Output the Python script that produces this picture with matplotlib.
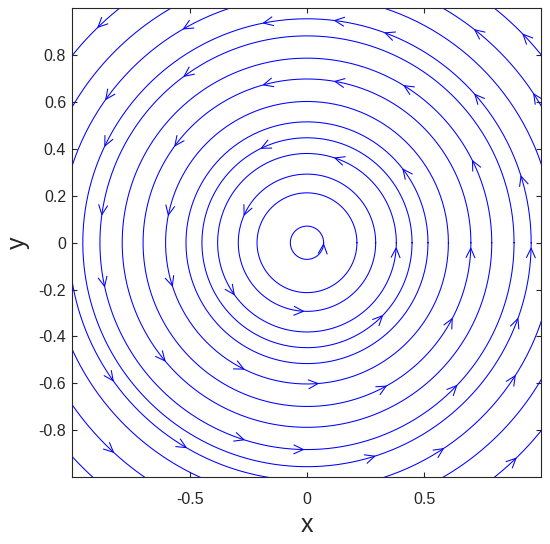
import numpy as np
import matplotlib.pyplot as plt

plt.rcParams['font.family'] = ['Liberation Sans', 'DejaVu Sans']
plt.rcParams['axes.unicode_minus'] = False

# closed streamlines around the origin (radius)
ring_radii = [0.071, 0.213, 0.293, 0.381, 0.448, 0.516, 0.603, 0.699, 0.788, 0.883, 0.956]
# outer streamlines that leave the box
outer_radii_a = [1.054, 1.157, 1.281]          # from bottom, over the right and top, to the left
outer_radii_b = [1.015, 1.100, 1.217, 1.355]   # lower left corner

# arrow heads: streamline radius and polar angle (deg)
arrow_r = [1.281, 1.054, 0.956, 1.054, 0.883, 0.699, 0.956, 0.699, 0.448, 0.883, 0.603, 0.293,
           0.956, 0.956, 1.157, 1.281, 0.699, 0.788, 0.956, 1.157, 0.381, 0.516, 0.788, 0.956,
           0.071, 0.381, 0.699, 0.956, 0.448, 0.699, 0.956, 0.603, 0.699, 0.883, 1.054, 0.956,
           1.054, 1.281, 0.883, 0.603, 0.381, 0.293, 1.015, 0.788, 0.603, 1.217, 1.015, 0.883,
           0.883]
arrow_deg = [134.1, 120.0, 101.2, 144.5, 126.4, 105.4, 154.4, 143.7, 115.8, 172.2, 168.7, 156.2,
             82.9, 69.6, 51.8, 44.0, 80.2, 58.3, 41.5, 33.3, 71.8, 37.5, 26.4, 17.3,
             -5.0, -3.4, -1.9, -1.4, -44.1, -27.6, -19.8, -85.5, -61.1, -43.7, -32.6, -72.4,
             -56.5, -45.9, 192.2, 197.8, 215.5, 267.1, 215.5, 219.8, 243.5, 227.3, 239.5, 252.3,
             269.0]

line_color = (0, 0, 1)
lw = 0.75

fig = plt.figure(figsize=(5.5, 5.44), dpi=100)
ax = fig.add_axes([0.1318, 0.1232, 0.8527, 0.8612])

t = np.linspace(0, 2 * np.pi, 400)
for r in ring_radii:
    ax.plot(r * np.cos(t), r * np.sin(t), color=line_color, lw=lw)

ta = np.radians(np.linspace(-90, 180, 400))
for r in outer_radii_a:
    ax.plot(r * np.cos(ta), r * np.sin(ta), color=line_color, lw=lw)

tb = np.radians(np.linspace(180, 270, 200))
for r in outer_radii_b:
    ax.plot(r * np.cos(tb), r * np.sin(tb), color=line_color, lw=lw)

# arrow heads (open V, counter-clockwise flow)
L = 0.044
half = np.radians(25)
for r, d in zip(arrow_r, arrow_deg):
    th = np.radians(d)
    tip = np.array([r * np.cos(th), r * np.sin(th)])
    back = -np.array([-np.sin(th), np.cos(th)])
    pts = []
    for s in (half, -half):
        c, sn = np.cos(s), np.sin(s)
        w = np.array([c * back[0] - sn * back[1], sn * back[0] + c * back[1]])
        pts.append(tip + L * w)
    ax.plot([pts[0][0], tip[0], pts[1][0]], [pts[0][1], tip[1], pts[1][1]],
            color=line_color, lw=lw)

ax.set_xlim(-1, 1)
ax.set_ylim(-1, 1)
ax.set_xticks([-0.5, 0, 0.5])
ax.set_xticklabels(['-0.5', '0', '0.5'])
ax.set_yticks([-0.8, -0.6, -0.4, -0.2, 0, 0.2, 0.4, 0.6, 0.8])
ax.set_yticklabels(['-0.8', '-0.6', '-0.4', '-0.2', '0', '0.2', '0.4', '0.6', '0.8'])

dark = '#262626'
for sp in ax.spines.values():
    sp.set_color(dark)
    sp.set_linewidth(0.8)
ax.tick_params(axis='both', direction='in', length=3.3, width=0.8, colors=dark,
               labelsize=11.5, top=True, right=True)
ax.tick_params(axis='x', pad=11)
ax.tick_params(axis='y', pad=4.5)

ax.set_xlabel('x', fontsize=18, color=dark, labelpad=4)
ax.set_ylabel('y', fontsize=18, color=dark, labelpad=6)

fig.savefig('out.png', dpi=100)
